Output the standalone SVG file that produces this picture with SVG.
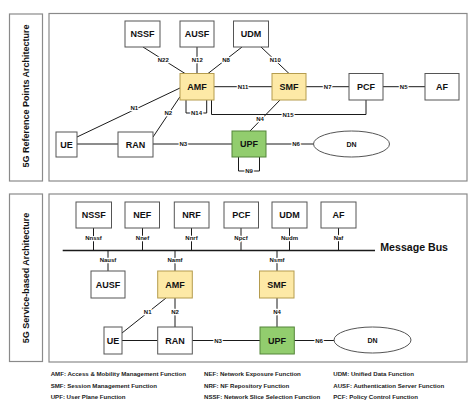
<svg xmlns="http://www.w3.org/2000/svg" width="474" height="418" viewBox="0 0 474 418">
<style>
text{font-family:"Liberation Sans",Arial,sans-serif;font-weight:bold;fill:#111}
.frame{fill:#fff;stroke:#8a8a8a;stroke-width:1.2}
.box{fill:#fff;stroke:#555;stroke-width:1}
.yel{fill:#fde9a6;stroke:#b59c4e;stroke-width:1}
.grn{fill:#92cd6e;stroke:#55853a;stroke-width:1}
.nm{font-size:9px;text-anchor:middle}
.side{font-size:9px;text-anchor:middle}
.lbl{font-size:6px;text-anchor:middle;stroke:#fff;stroke-width:2.5;paint-order:stroke;stroke-linejoin:round}
.leg{font-size:6.1px;fill:#222}
.ln{fill:none;stroke:#1a1a1a;stroke-width:1}
.bus{fill:none;stroke:#1a1a1a;stroke-width:1.6}
</style>
<rect width="474" height="418" fill="#fff"/>
<g id="frames">
<rect class="frame" x="9.5" y="14" width="33" height="167"/>
<rect class="frame" x="49" y="13.5" width="418" height="167.5"/>
<text class="side" transform="translate(29,96) rotate(-90)">5G Reference Points Architecture</text>
<rect class="frame" x="9.5" y="194" width="33" height="167.5"/>
<rect class="frame" x="49" y="194" width="418" height="168"/>
<text class="side" transform="translate(29,278) rotate(-90)">5G Service-based Architecture</text>
</g>
<g id="connectors">
<!-- top section -->
<line class="ln" x1="143" y1="47" x2="185" y2="73.5"/>
<line class="ln" x1="197" y1="47" x2="197" y2="73.5"/>
<line class="ln" x1="242" y1="47" x2="208" y2="73.5"/>
<line class="ln" x1="261" y1="47" x2="289" y2="73.5"/>
<line class="ln" x1="214" y1="86.7" x2="272" y2="86.7"/>
<line class="ln" x1="306" y1="86.7" x2="349" y2="86.7"/>
<line class="ln" x1="383" y1="86.7" x2="425" y2="86.7"/>
<polyline class="ln" points="186,100 186,113 206.7,113 206.7,100"/>
<polyline class="ln" points="211.5,100 211.5,114.5 366,114.5 366,100"/>
<line class="ln" x1="280" y1="100" x2="250" y2="131"/>
<line class="ln" x1="77" y1="137" x2="180" y2="88"/>
<line class="ln" x1="153" y1="137" x2="180" y2="96.7"/>
<line class="ln" x1="77" y1="144" x2="118" y2="144"/>
<line class="ln" x1="153" y1="144" x2="232" y2="144"/>
<line class="ln" x1="266" y1="144" x2="313.5" y2="144"/>
<polyline class="ln" points="238.5,157 238.5,171 259.5,171 259.5,157"/>
<text class="lbl" x="163.3" y="61.5">N22</text>
<text class="lbl" x="197.3" y="61.5">N12</text>
<text class="lbl" x="226" y="61.5">N8</text>
<text class="lbl" x="275.3" y="62">N10</text>
<text class="lbl" x="243" y="88.8">N11</text>
<text class="lbl" x="327.7" y="88.8">N7</text>
<text class="lbl" x="403.7" y="88.8">N5</text>
<text class="lbl" x="196.5" y="115.1">N14</text>
<text class="lbl" x="288" y="116.6">N15</text>
<text class="lbl" x="260" y="121">N4</text>
<text class="lbl" x="134.3" y="109.8">N1</text>
<text class="lbl" x="168.3" y="115.4">N2</text>
<text class="lbl" x="183.3" y="146.1">N3</text>
<text class="lbl" x="296" y="145.5">N6</text>
<text class="lbl" x="249" y="173.1">N9</text>
<!-- bottom section -->
<line class="bus" x1="62.7" y1="250.5" x2="375" y2="250.5"/>
<line class="ln" x1="93.5" y1="228" x2="93.5" y2="250.5"/>
<line class="ln" x1="142.5" y1="228" x2="142.5" y2="250.5"/>
<line class="ln" x1="191.5" y1="228" x2="191.5" y2="250.5"/>
<line class="ln" x1="241" y1="228" x2="241" y2="250.5"/>
<line class="ln" x1="289.5" y1="228" x2="289.5" y2="250.5"/>
<line class="ln" x1="338.5" y1="228" x2="338.5" y2="250.5"/>
<line class="ln" x1="108" y1="250.5" x2="108" y2="271"/>
<line class="ln" x1="175" y1="250.5" x2="175" y2="271"/>
<line class="ln" x1="277" y1="250.5" x2="277" y2="271"/>
<line class="ln" x1="122" y1="333" x2="166" y2="298"/>
<line class="ln" x1="175" y1="298" x2="175" y2="327"/>
<line class="ln" x1="277" y1="298" x2="277" y2="327"/>
<line class="ln" x1="122" y1="340.5" x2="157.5" y2="340.5"/>
<line class="ln" x1="192" y1="340.5" x2="260" y2="340.5"/>
<line class="ln" x1="294" y1="340.5" x2="334" y2="340.5"/>
<text class="lbl" x="93.5" y="240">Nnssf</text>
<text class="lbl" x="142.5" y="239.5">Nnef</text>
<text class="lbl" x="191.5" y="240">Nnrf</text>
<text class="lbl" x="241" y="240">Npcf</text>
<text class="lbl" x="289.5" y="240">Nudm</text>
<text class="lbl" x="338.5" y="240">Naf</text>
<text class="lbl" x="108" y="262">Nausf</text>
<text class="lbl" x="175" y="262">Namf</text>
<text class="lbl" x="277" y="262">Nsmf</text>
<text class="lbl" x="147.7" y="314.4">N1</text>
<text class="lbl" x="175" y="314">N2</text>
<text class="lbl" x="277" y="314">N4</text>
<text class="lbl" x="218" y="342.6">N3</text>
<text class="lbl" x="319" y="342.6">N6</text>
<text x="380.3" y="251" style="font-size:10.6px">Message Bus</text>
</g>
<g id="t-nssf"><rect class="box" x="125" y="21" width="35" height="26"/><text class="nm" x="142.5" y="37.3">NSSF</text></g>
<g id="t-ausf"><rect class="box" x="180" y="21" width="34" height="26"/><text class="nm" x="197" y="37.3">AUSF</text></g>
<g id="t-udm"><rect class="box" x="233.5" y="21" width="35" height="26"/><text class="nm" x="251" y="37.3">UDM</text></g>
<g id="t-amf"><rect class="yel" x="180" y="73.5" width="34" height="26.5"/><text class="nm" x="197" y="90">AMF</text></g>
<g id="t-smf"><rect class="yel" x="272" y="73.5" width="34" height="26.5"/><text class="nm" x="289" y="90">SMF</text></g>
<g id="t-pcf"><rect class="box" x="349" y="73.5" width="34" height="26.5"/><text class="nm" x="366" y="90">PCF</text></g>
<g id="t-af"><rect class="box" x="425" y="73.5" width="34" height="26.5"/><text class="nm" x="442" y="90">AF</text></g>
<g id="t-ue"><rect class="box" x="56" y="132" width="21" height="25"/><text class="nm" x="66.5" y="147.7">UE</text></g>
<g id="t-ran"><rect class="box" x="118" y="132" width="35" height="25"/><text class="nm" x="135.5" y="147.7">RAN</text></g>
<g id="t-upf"><rect class="grn" x="232" y="131" width="34" height="26"/><text class="nm" x="249" y="147.3">UPF</text></g>
<g id="t-dn"><ellipse class="box" cx="351.5" cy="144" rx="38" ry="13"/><text x="351.5" y="146.5" style="font-size:7px;text-anchor:middle">DN</text></g>
<g id="b-nssf"><rect class="box" x="76" y="202" width="35.5" height="26"/><text class="nm" x="93.7" y="218.3">NSSF</text></g>
<g id="b-nef"><rect class="box" x="125" y="202" width="34.5" height="26"/><text class="nm" x="142.3" y="218.3">NEF</text></g>
<g id="b-nrf"><rect class="box" x="174.3" y="202" width="34.7" height="26"/><text class="nm" x="191.6" y="218.3">NRF</text></g>
<g id="b-pcf"><rect class="box" x="224" y="202" width="34.5" height="26"/><text class="nm" x="241.2" y="218.3">PCF</text></g>
<g id="b-udm"><rect class="box" x="272" y="202" width="35" height="26"/><text class="nm" x="289.5" y="218.3">UDM</text></g>
<g id="b-af"><rect class="box" x="321" y="202" width="35" height="26"/><text class="nm" x="338.5" y="218.3">AF</text></g>
<g id="b-ausf"><rect class="box" x="91" y="271" width="34" height="27"/><text class="nm" x="108" y="287.7">AUSF</text></g>
<g id="b-amf"><rect class="yel" x="157.7" y="271" width="34.6" height="27"/><text class="nm" x="175" y="287.7">AMF</text></g>
<g id="b-smf"><rect class="yel" x="259.5" y="271" width="34.5" height="27"/><text class="nm" x="276.8" y="287.7">SMF</text></g>
<g id="b-ue"><rect class="box" x="104" y="327" width="18" height="27"/><text class="nm" x="113" y="343.7">UE</text></g>
<g id="b-ran"><rect class="box" x="157.7" y="327" width="34.6" height="27"/><text class="nm" x="175" y="343.7">RAN</text></g>
<g id="b-upf"><rect class="grn" x="260" y="327" width="34.3" height="27"/><text class="nm" x="277.1" y="343.7">UPF</text></g>
<g id="b-dn"><ellipse class="box" cx="372.5" cy="340" rx="38.5" ry="13"/><text x="372.5" y="342.5" style="font-size:7px;text-anchor:middle">DN</text></g>
<g id="legend">
<text class="leg" x="50.7" y="376.2">AMF: Access &amp; Mobility Management Function</text>
<text class="leg" x="50.7" y="387.8">SMF: Session Management Function</text>
<text class="leg" x="50.7" y="399.2">UPF: User Plane Function</text>
<text class="leg" x="204" y="376.2">NEF: Network Exposure Function</text>
<text class="leg" x="204" y="387.8">NRF: NF Repository Function</text>
<text class="leg" x="204" y="399.2">NSSF: Network Slice Selection Function</text>
<text class="leg" x="333.3" y="376.2">UDM: Unified Data Function</text>
<text class="leg" x="333.3" y="387.8">AUSF: Authentication Server Function</text>
<text class="leg" x="333.3" y="399.2">PCF: Policy Control Function</text>
</g>
</svg>
